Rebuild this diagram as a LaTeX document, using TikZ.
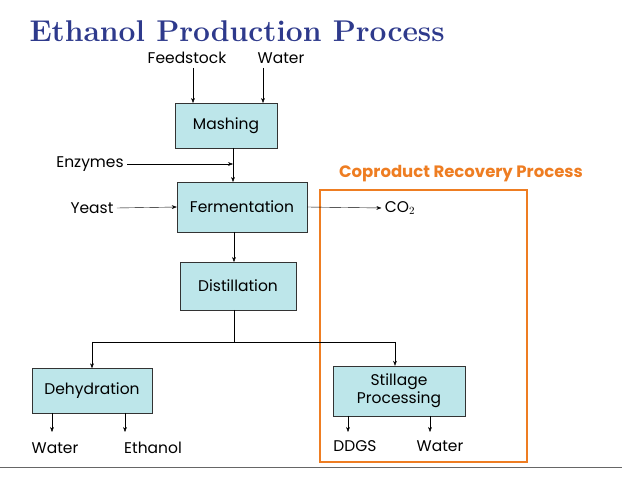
\documentclass[tikz,border=0pt]{standalone}
\usepackage{fontspec}
\setsansfont{Poppins}
\usetikzlibrary{arrows.meta, positioning, calc}
\definecolor{titleblue}{HTML}{2E3A8C}
\definecolor{boxfill}{HTML}{BDE6EA}
\definecolor{coorange}{HTML}{EE7D22}
\begin{document}
\begin{tikzpicture}[x=1pt, y=-1pt,
  stepbox/.style={rectangle, draw=black!80, fill=boxfill, font=\sffamily\fontsize{15.5}{18}\selectfont, align=center, inner sep=1pt},
  lbl/.style={font=\sffamily\fontsize{15.5}{18}\selectfont},
  arrow/.style={-{Stealth[length=5pt]}, thin}
]
  \useasboundingbox (0,0) rectangle (638,478);
  % Title
  \node[font=\rmfamily\bfseries\fontsize{30}{32}\selectfont, color=titleblue, anchor=west] (title) at (26,31) {Ethanol Production Process};

  % Process boxes
  \node[stepbox, minimum width=102, minimum height=45] (mash) at (226,126) {Mashing};
  \node[stepbox, minimum width=130, minimum height=50] (ferm) at (242,207) {Fermentation};
  \node[stepbox, minimum width=116, minimum height=48] (dist) at (238,286) {Distillation};
  \node[stepbox, minimum width=120, minimum height=45] (dehy) at (92,391) {Dehydration};
  \node[stepbox, minimum width=132, minimum height=50] (still) at (399,391) {Stillage\\Processing};

  % Coproduct region
  \draw[coorange, line width=2pt] (320,190) rectangle (527,462);
  \node[font=\sffamily\bfseries\fontsize{16.5}{18}\selectfont, color=coorange] (copro) at (461,174) {Coproduct Recovery Process};
  \draw[black!60] (0,467) -- (622,467);

  % Inputs and outputs
  \node[lbl] (feed) at (187,58) {Feedstock};
  \node[lbl] (water) at (281,58) {Water};
  \node[lbl] (enz) at (90,164) {Enzymes};
  \node[lbl] (yeast) at (92,208) {Yeast};
  \node[lbl] (co2) at (400,208) {CO$_2$};
  \node[lbl] (wout) at (55,448) {Water};
  \node[lbl] (eth) at (153,448) {Ethanol};
  \node[lbl] (ddgs) at (355,446) {DDGS};
  \node[lbl] (wout2) at (440,446) {Water};
  \coordinate (enzj) at (233,164);
  \coordinate (split) at (234,342);
  \coordinate (sl) at (92,342);
  \coordinate (sr) at (395,342);

  % Arrows
  \draw[arrow] (193,68) -- (193,103);
  \draw[arrow] (263,68) -- (263,103);
  \draw[arrow] (enz.east) -- (enzj);
  \draw[arrow] (233,148) -- (233,182);
  \draw[arrow] (yeast.east) -- (ferm.west);
  \draw[arrow] (ferm.east) -- (co2.west);
  \draw[arrow] (234,232) -- (234,262);
  \draw (234,310) -- (split);
  \draw (sl) -- (sr);
  \draw[arrow] (sl) -- (dehy.north);
  \draw[arrow] (sr) -- (sr |- still.north);
  \draw[arrow] (52,413) -- (52,432);
  \draw[arrow] (125,413) -- (125,432);
  \draw[arrow] (348,416) -- (348,432);
  \draw[arrow] (430,416) -- (430,432);
\end{tikzpicture}
\end{document}
